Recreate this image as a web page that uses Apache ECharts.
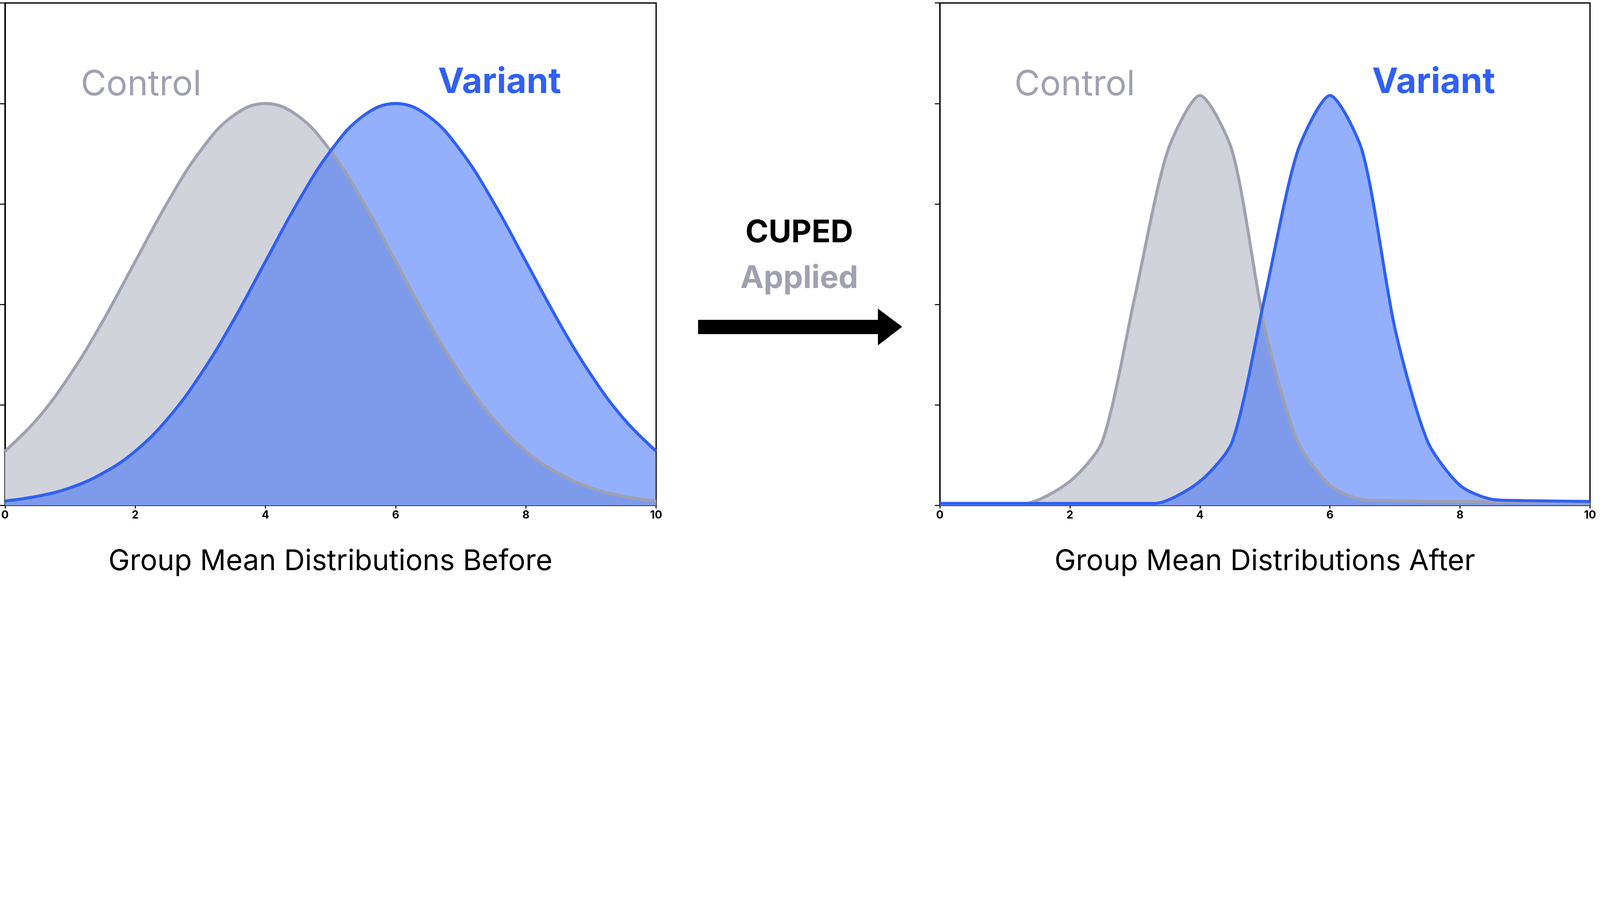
<!DOCTYPE html>
<html><head><meta charset="utf-8">
<script src="https://cdn.jsdelivr.net/npm/echarts@6/dist/echarts.min.js"></script>
<style>html,body{margin:0;padding:0;background:#fff;overflow:hidden}#c{width:100vw;height:100vh}</style>
</head><body><div id="c"></div>
<script>
const xTicks = [0,2,4,6,8,10];
const xsLeft = [0,0.5,1,1.5,2,2.5,3,3.5,4,4.5,5,5.5,6,6.5,7,7.5,8,8.5,9,9.5,10];
const beforeControl = [0.135,0.216,0.325,0.458,0.607,0.755,0.882,0.969,1,0.969,0.882,0.755,0.607,0.458,0.325,0.216,0.135,0.080,0.044,0.023,0.011];
const beforeVariant = [0.011,0.023,0.044,0.080,0.135,0.216,0.325,0.458,0.607,0.755,0.882,0.969,1,0.969,0.882,0.755,0.607,0.458,0.325,0.216,0.135];
const xsAfterControl = [0,1.3,2,2.5,3,3.5,4,4.5,5,5.5,6,6.5,7,8,10];
const afterControl = [0.005,0.005,0.06,0.16,0.52,0.88,1.02,0.88,0.44,0.16,0.05,0.015,0.012,0.01,0.006];
const xsAfterVariant = [0,3.3,4,4.5,5,5.5,6,6.5,7,7.5,8,8.5,9,10];
const afterVariant = [0.005,0.005,0.06,0.16,0.52,0.88,1.02,0.88,0.44,0.16,0.05,0.015,0.012,0.01];

const zip = (xs, ys) => xs.map((x,i)=>[x,ys[i]]);
const el = document.getElementById('c');
const W = el.clientWidth || window.innerWidth, H = el.clientHeight || window.innerHeight;
const k = Math.min(W/6406, H/2362);
const p = v => v*k;
const ctrlLine = '#9fa1b0', ctrlFill = '#d0d3da', varLine = '#2f5ff5', varFill = 'rgba(53,106,249,0.53)';
const chart = echarts.init(el);
const grids = [{left:p(20),top:p(12),width:p(2607),height:p(2011)},{left:p(3763),top:p(12),width:p(2603),height:p(2011)}];
function xAxis(i){return {gridIndex:i,type:'value',min:0,max:10,interval:2,
  axisLine:{show:true,lineStyle:{color:'#000',width:p(5)}},axisTick:{show:true,length:p(12),lineStyle:{color:'#000',width:p(4)}},
  splitLine:{show:false},axisLabel:{color:'#000',fontSize:p(44),fontWeight:'bold',fontFamily:'Inter',margin:p(18),
  formatter:v=>xTicks.includes(v)?String(v):''}};}
function yAxis(i){return {gridIndex:i,type:'value',min:0,max:1.25,interval:0.25,
  axisLine:{show:true,lineStyle:{color:'#000',width:p(5)}},axisTick:{show:true,inside:false,length:p(20),lineStyle:{color:'#000',width:p(4)}},
  axisLabel:{show:false},splitLine:{show:false}};}
function s(i,data,lc,fc,smooth){return {type:'line',xAxisIndex:i,yAxisIndex:i,data,showSymbol:false,smooth,
  lineStyle:{color:lc,width:p(12)},areaStyle:{color:fc,opacity:1},itemStyle:{color:lc}};}
function txt(x,y,t,color,size,weight){return {type:'text',x:p(x),y:p(y),style:{text:t,fill:color,font:weight+' '+p(size)+'px Inter',align:'center',verticalAlign:'middle'}};}
chart.setOption({
  animation:false,
  grid:grids.map(g=>Object.assign({show:true,borderColor:'#000',borderWidth:p(5),backgroundColor:'transparent'},g)),
  xAxis:[xAxis(0),xAxis(1)], yAxis:[yAxis(0),yAxis(1)],
  series:[
    s(0,zip(xsLeft,beforeControl),ctrlLine,ctrlFill,0.4),
    s(0,zip(xsLeft,beforeVariant),varLine,varFill,0.4),
    s(1,zip(xsAfterControl,afterControl),ctrlLine,ctrlFill,0.25),
    s(1,zip(xsAfterVariant,afterVariant),varLine,varFill,0.25)
  ],
  graphic:[
    txt(565,340,'Control',ctrlLine,140,'normal'),
    txt(2000,330,'Variant',varLine,140,'bold'),
    txt(4303,340,'Control',ctrlLine,140,'normal'),
    txt(5740,330,'Variant',varLine,140,'bold'),
    txt(1323,2247,'Group Mean Distributions Before','#000',115,'normal'),
    txt(5064,2247,'Group Mean Distributions After','#000',115,'normal'),
    txt(3200,932,'CUPED','#000',125,'bold'),
    txt(3200,1115,'Applied',ctrlLine,125,'bold'),
    {type:'polygon',shape:{points:[[2795,1280],[3515,1280],[3515,1235],[3612,1308],[3515,1382],[3515,1337],[2795,1337]].map(q=>[p(q[0]),p(q[1])])},style:{fill:'#000'}}
  ]
});
</script></body></html>
